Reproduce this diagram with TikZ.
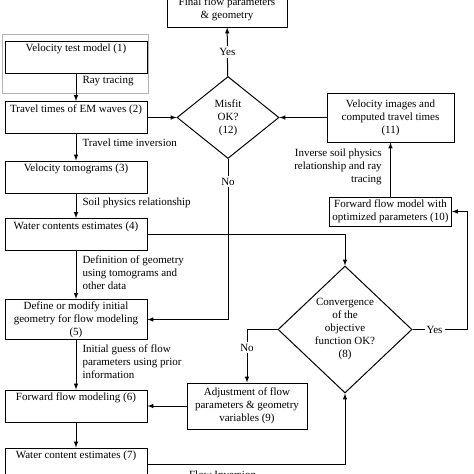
\documentclass[tikz,border=0pt]{standalone}
\usepackage{fontspec}
\setmainfont{Liberation Serif}
\usetikzlibrary{shapes,arrows,positioning,calc}

\begin{document}
\begin{tikzpicture}[x=1pt, y=-1pt, >=latex, line width=1pt, on grid, node distance=60pt,
  every node/.style={font=\fontsize{11}{13}\selectfont},
  proc/.style={draw, rectangle, align=center, minimum width=142pt, inner sep=3pt, text height=7.6pt, text depth=18.4pt},
  block/.style={draw, rectangle, align=center, inner sep=2pt},
  decision/.style={draw, diamond, align=center, inner sep=0pt},
  note/.style={anchor=north west, align=left, inner sep=1pt, xshift=5pt, yshift=-3pt},
  gap/.style={fill=white, inner sep=2pt}]
  \useasboundingbox (0,0) rectangle (474,474);

  % Boxes of the left column
  \node[proc] (b1) at (76,57) {Velocity test model (1)};
  \node[proc] (b2) [below=60.5pt of b1] {Travel times of EM waves (2)};
  \node[proc] (b3) [below=59.5pt of b2] {Velocity tomograms (3)};
  \node[proc] (b4) [below=57.5pt of b3] {Water contents estimates (4)};
  \node[block, minimum width=142pt, minimum height=37pt] (b5) [below=85pt of b4] {Define or modify initial\\geometry for flow modeling\\(5)};
  \node[proc] (b6) [below=86.5pt of b5] {Forward flow modeling (6)};
  \node[proc] (b7) [below=58pt of b6] {Water content estimates (7)};
  \draw[gray!60, line width=0.6pt] ($(b1.north west)+(-2,-6)$) rectangle ($(b1.south east)+(1,20)$);

  % Decisions and the boxes on the right
  \node[decision, minimum width=102pt, minimum height=82pt] (d12) [right=152pt of b2] {Misfit\\OK?\\(12)};
  \node[block, minimum width=120pt, minimum height=35pt] (fin) at (227,9.5) {Final flow parameters\\\& geometry};
  \node[block, minimum width=127pt, minimum height=49pt] (b11) [right=162.5pt of d12] {Velocity images and\\computed travel times\\(11)};
  \node[block, minimum width=122pt, minimum height=29pt] (b10) [below=94pt of b11] {Forward flow model with\\optimized parameters (10)};
  \node[decision, minimum width=134pt, minimum height=127pt] (d8) at (345,329.5) {Convergence\\of the\\objective\\function OK?\\(8)};
  \node[block, minimum width=120pt, minimum height=46pt] (b9) at (247,406) {Adjustment of flow\\parameters \& geometry\\variables (9)};

  % Arrows down the left column
  \path[->]
    (b1) edge node[note, pos=0, yshift=1.5pt] {Ray tracing} (b2)
    (b2) edge node[note, pos=0] {Travel time inversion} (b3)
    (b3) edge node[note, pos=0] {Soil physics relationship} (b4)
    (b4) edge node[note, pos=0] {Definition of geometry\\using tomograms and\\other data} (b5)
    (b5) edge node[note, pos=0] {Initial guess of flow\\parameters using prior\\information} (b6)
    (b6) edge (b7);

  % Arrows of the two loops
  \path[->]
    (b2) edge (d12)
    (b11) edge (d12)
    (d12) edge node[gap] {Yes} (fin)
    (b10) edge node[anchor=east, xshift=-5pt, align=right, pos=0.55] {Inverse soil physics\\relationship and ray\\tracing} (b11)
    (b9) edge (b6);
  \draw[->] (d12.south) |- node[gap, pos=0.07] {No} (b5.east);
  \draw[->] (b4.east) -| (d8.north);
  \draw[->] (b7.east) -| node[anchor=north, yshift=-3pt, pos=0.19] {Flow Inversion} (d8.south);
  \draw[->] (d8.west) -| node[gap, pos=0.67] {No} (b9.north);
  \draw[->] (d8.east) -- node[gap, pos=0.4] {Yes} ++(55,0) |- (b10.east);
\end{tikzpicture}
\end{document}
